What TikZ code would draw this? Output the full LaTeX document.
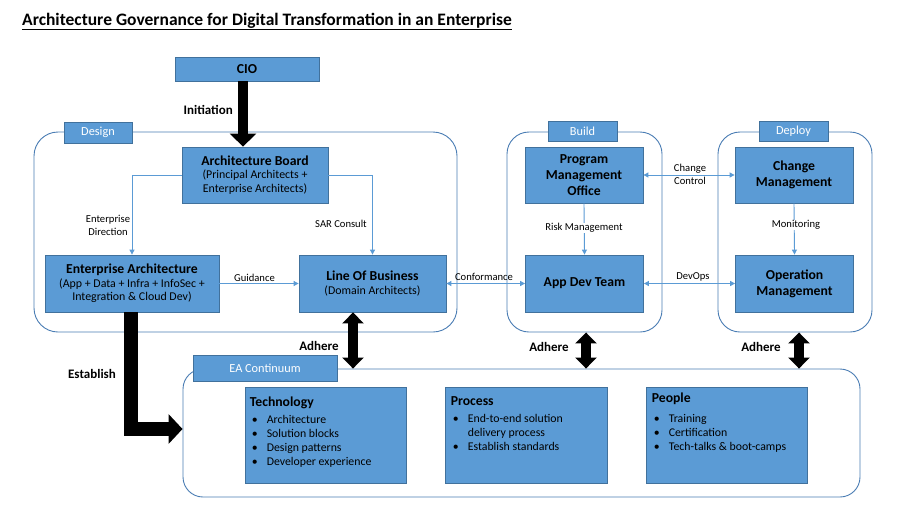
\documentclass[tikz,border=0pt]{standalone}
\usepackage{fontspec}
\setmainfont{Carlito}
\usetikzlibrary{arrows.meta,calc}
\definecolor{blu}{HTML}{5B9BD5}
\definecolor{bdr}{HTML}{41719C}
\definecolor{contc}{HTML}{4A7DB4}
\newcommand\fsHead{\fontsize{13.7}{16}\selectfont\bfseries}
\newcommand\fsSub{\fontsize{11.9}{13.5}\selectfont}
\newcommand\fsLab{\fontsize{10.6}{13}\selectfont}
\newcommand\fsBold{\fontsize{13}{15}\selectfont\bfseries}
\newcommand\fsTab{\fontsize{12.3}{14}\selectfont}
\newcommand\fsList{\fontsize{11.8}{14}\selectfont}
\newcommand\bul{\hspace*{2pt}\makebox[15pt][l]{\textbullet}}
\tikzset{
  box/.style={draw=bdr, fill=blu, line width=0.8pt, align=center, inner sep=2pt, text=black, font=\fsSub},
  cont/.style={draw=contc, line width=0.9pt, rounded corners=22pt, inner sep=0pt},
  tabbox/.style={draw=bdr, fill=blu, line width=0.8pt, text=white, font=\fsTab, inner sep=0pt},
  conn/.style={draw=blu, line width=0.9pt, -{Triangle[length=5pt,width=5pt]}},
  conn2/.style={draw=blu, line width=0.9pt, {Triangle[length=5pt,width=5pt]}-{Triangle[length=5pt,width=5pt]}},
  lab/.style={font=\fsLab, align=center, inner sep=1pt},
  blab/.style={font=\fsBold, inner sep=1pt},
  fat/.style={draw=black, line width=10pt, -{Triangle[length=13pt,width=26pt]}},
  dbl/.style={draw=black, line width=10pt, {Triangle[length=11pt,width=21pt]}-{Triangle[length=11pt,width=21pt]}},
  est/.style={draw=black, line width=14pt, -{Triangle[length=14pt,width=29pt]}},
  listtxt/.style={anchor=north west, inner sep=0pt, align=left, font=\fsList, text=black}
}
\begin{document}
\begin{tikzpicture}[x=1pt,y=-1pt]
\fill[white] (0,0) rectangle (904,512);
\useasboundingbox (0,0) rectangle (904,512);

% title
\node[anchor=base west, inner sep=0pt, font=\fontsize{17.5}{20}\selectfont\bfseries] (title) at (22,25)
  {\underline{Architecture Governance for Digital Transformation in an Enterprise}};

% containers
\node[cont, rounded corners=24pt, minimum width=423pt, minimum height=200pt] (design) at (245.5,232) {};
\node[cont, minimum width=155pt, minimum height=200pt] (build) at (584.5,232) {};
\node[cont, minimum width=154pt, minimum height=200pt] (deploy) at (795,232) {};
\node[cont, rounded corners=20pt, minimum width=677pt, minimum height=128pt] (eac) at (521.5,433) {};

% tabs
\node[tabbox, minimum width=68pt, minimum height=21pt] (designtab) at (98,132.5) {Design};
\node[tabbox, minimum width=69pt, minimum height=20pt] (buildtab) at (582.5,131) {Build};
\node[tabbox, minimum width=69pt, minimum height=20pt] (deploytab) at (793.5,131) {Deploy};
\node[tabbox, minimum width=144pt, minimum height=26pt] (eactab) at (265,368) {EA Continuum};

% boxes
\node[box, minimum width=144pt, minimum height=24pt] (cio) at (247,69) {\fsHead CIO};
\node[box, minimum width=146pt, minimum height=56pt] (ab) at (255,175)
  {{\fsHead Architecture Board}\\[0pt](Principal Architects +\\Enterprise Architects)};
\node[box, minimum width=174pt, minimum height=57pt] (ea) at (132,283.5)
  {{\fsHead Enterprise Architecture}\\[0pt](App + Data + Infra + InfoSec +\\Integration \& Cloud Dev)};
\node[box, minimum width=147pt, minimum height=57pt] (lob) at (372.5,283.5)
  {{\fsHead Line Of Business}\\[0pt](Domain Architects)};
\node[box, minimum width=118pt, minimum height=56pt, font=\fsHead] (pmo) at (584,175)
  {Program\\Management\\Office};
\node[box, minimum width=118pt, minimum height=57pt, font=\fsHead] (adt) at (584.5,283.5) {App Dev Team};
\node[box, minimum width=118pt, minimum height=56pt, font=\fsHead] (cm) at (794,175) {Change\\Management};
\node[box, minimum width=118pt, minimum height=57pt, font=\fsHead] (om) at (794.5,283.5) {Operation\\Management};

\node[box, minimum width=161pt, minimum height=96pt] (tech) at (325.5,435) {};
\node[box, minimum width=162pt, minimum height=96pt] (proc) at (526,435) {};
\node[box, minimum width=161pt, minimum height=96pt] (people) at (726.5,435) {};

\node[listtxt] (techtxt) at ($(tech.north west)+(5,10)$)
  {{\fsHead Technology}\\[3pt]
   \bul Architecture\\
   \bul Solution blocks\\
   \bul Design patterns\\
   \bul Developer experience};
\node[listtxt] (proctxt) at ($(proc.north west)+(6,10)$)
  {{\fsHead Process}\\[3pt]
   \bul End-to-end solution\\
   \hspace*{17pt}delivery process\\
   \bul Establish standards};
\node[listtxt] (peopletxt) at ($(people.north west)+(6,6)$)
  {{\fsHead People}\\[6pt]
   \bul Training\\
   \bul Certification\\
   \bul Tech-talks \& boot-camps};

% thin connectors
\draw[conn] (ab.west) -| (ea.north);
\draw[conn] (ab.east) -| (lob.north);
\draw[conn] (ea.east) -- (lob.west);
\draw[conn2] (lob.east) -- (adt.west);
\draw[conn] (pmo.south) -- (adt.north);
\draw[conn2] (pmo.east) -- (cm.west);
\draw[conn] (cm.south) -- (om.north);
\draw[conn2] (adt.east) -- (om.west);

% connector labels
\node[lab] (lEnt) at (108,225.5) {Enterprise\\Direction};
\node[lab] (lSar) at (341,224) {SAR Consult};
\node[lab] (lGuid) at (254.5,278) {Guidance};
\node[lab] (lConf) at (484,276.5) {Conformance};
\node[lab, fill=white, inner sep=0.5pt] (lRisk) at (584,228) {Risk Management};
\node[lab, fill=white, inner sep=0.5pt] (lMon) at (796,225) {Monitoring};
\node[lab] (lCC) at (690,174.5) {Change\\Control};
\node[lab] (lDev) at (693,276.5) {DevOps};

% fat arrows
\draw[fat] ([xshift=-4pt]cio.south) -- ([xshift=-4pt]cio.south |- ab.north);
\draw[dbl] ([xshift=-19.5pt]lob.south) -- ([xshift=-19.5pt]lob.south |- eac.north);
\draw[dbl] ([xshift=1.5pt]build.south) -- ([xshift=1.5pt]build.south |- eac.north);
\draw[dbl] ([xshift=4pt]deploy.south) -- ([xshift=4pt]deploy.south |- eac.north);
\draw[est] ([xshift=-1pt]ea.south) |- ([yshift=4pt]eac.west);

% bold labels
\node[blab, anchor=east] (lInit) at (234,110) {Initiation};
\node[blab] (lEst) at (92,374) {Establish};
\node[blab] (lAd1) at (319,346) {Adhere};
\node[blab] (lAd2) at (549,347) {Adhere};
\node[blab] (lAd3) at (761,347) {Adhere};
\end{tikzpicture}
\end{document}
